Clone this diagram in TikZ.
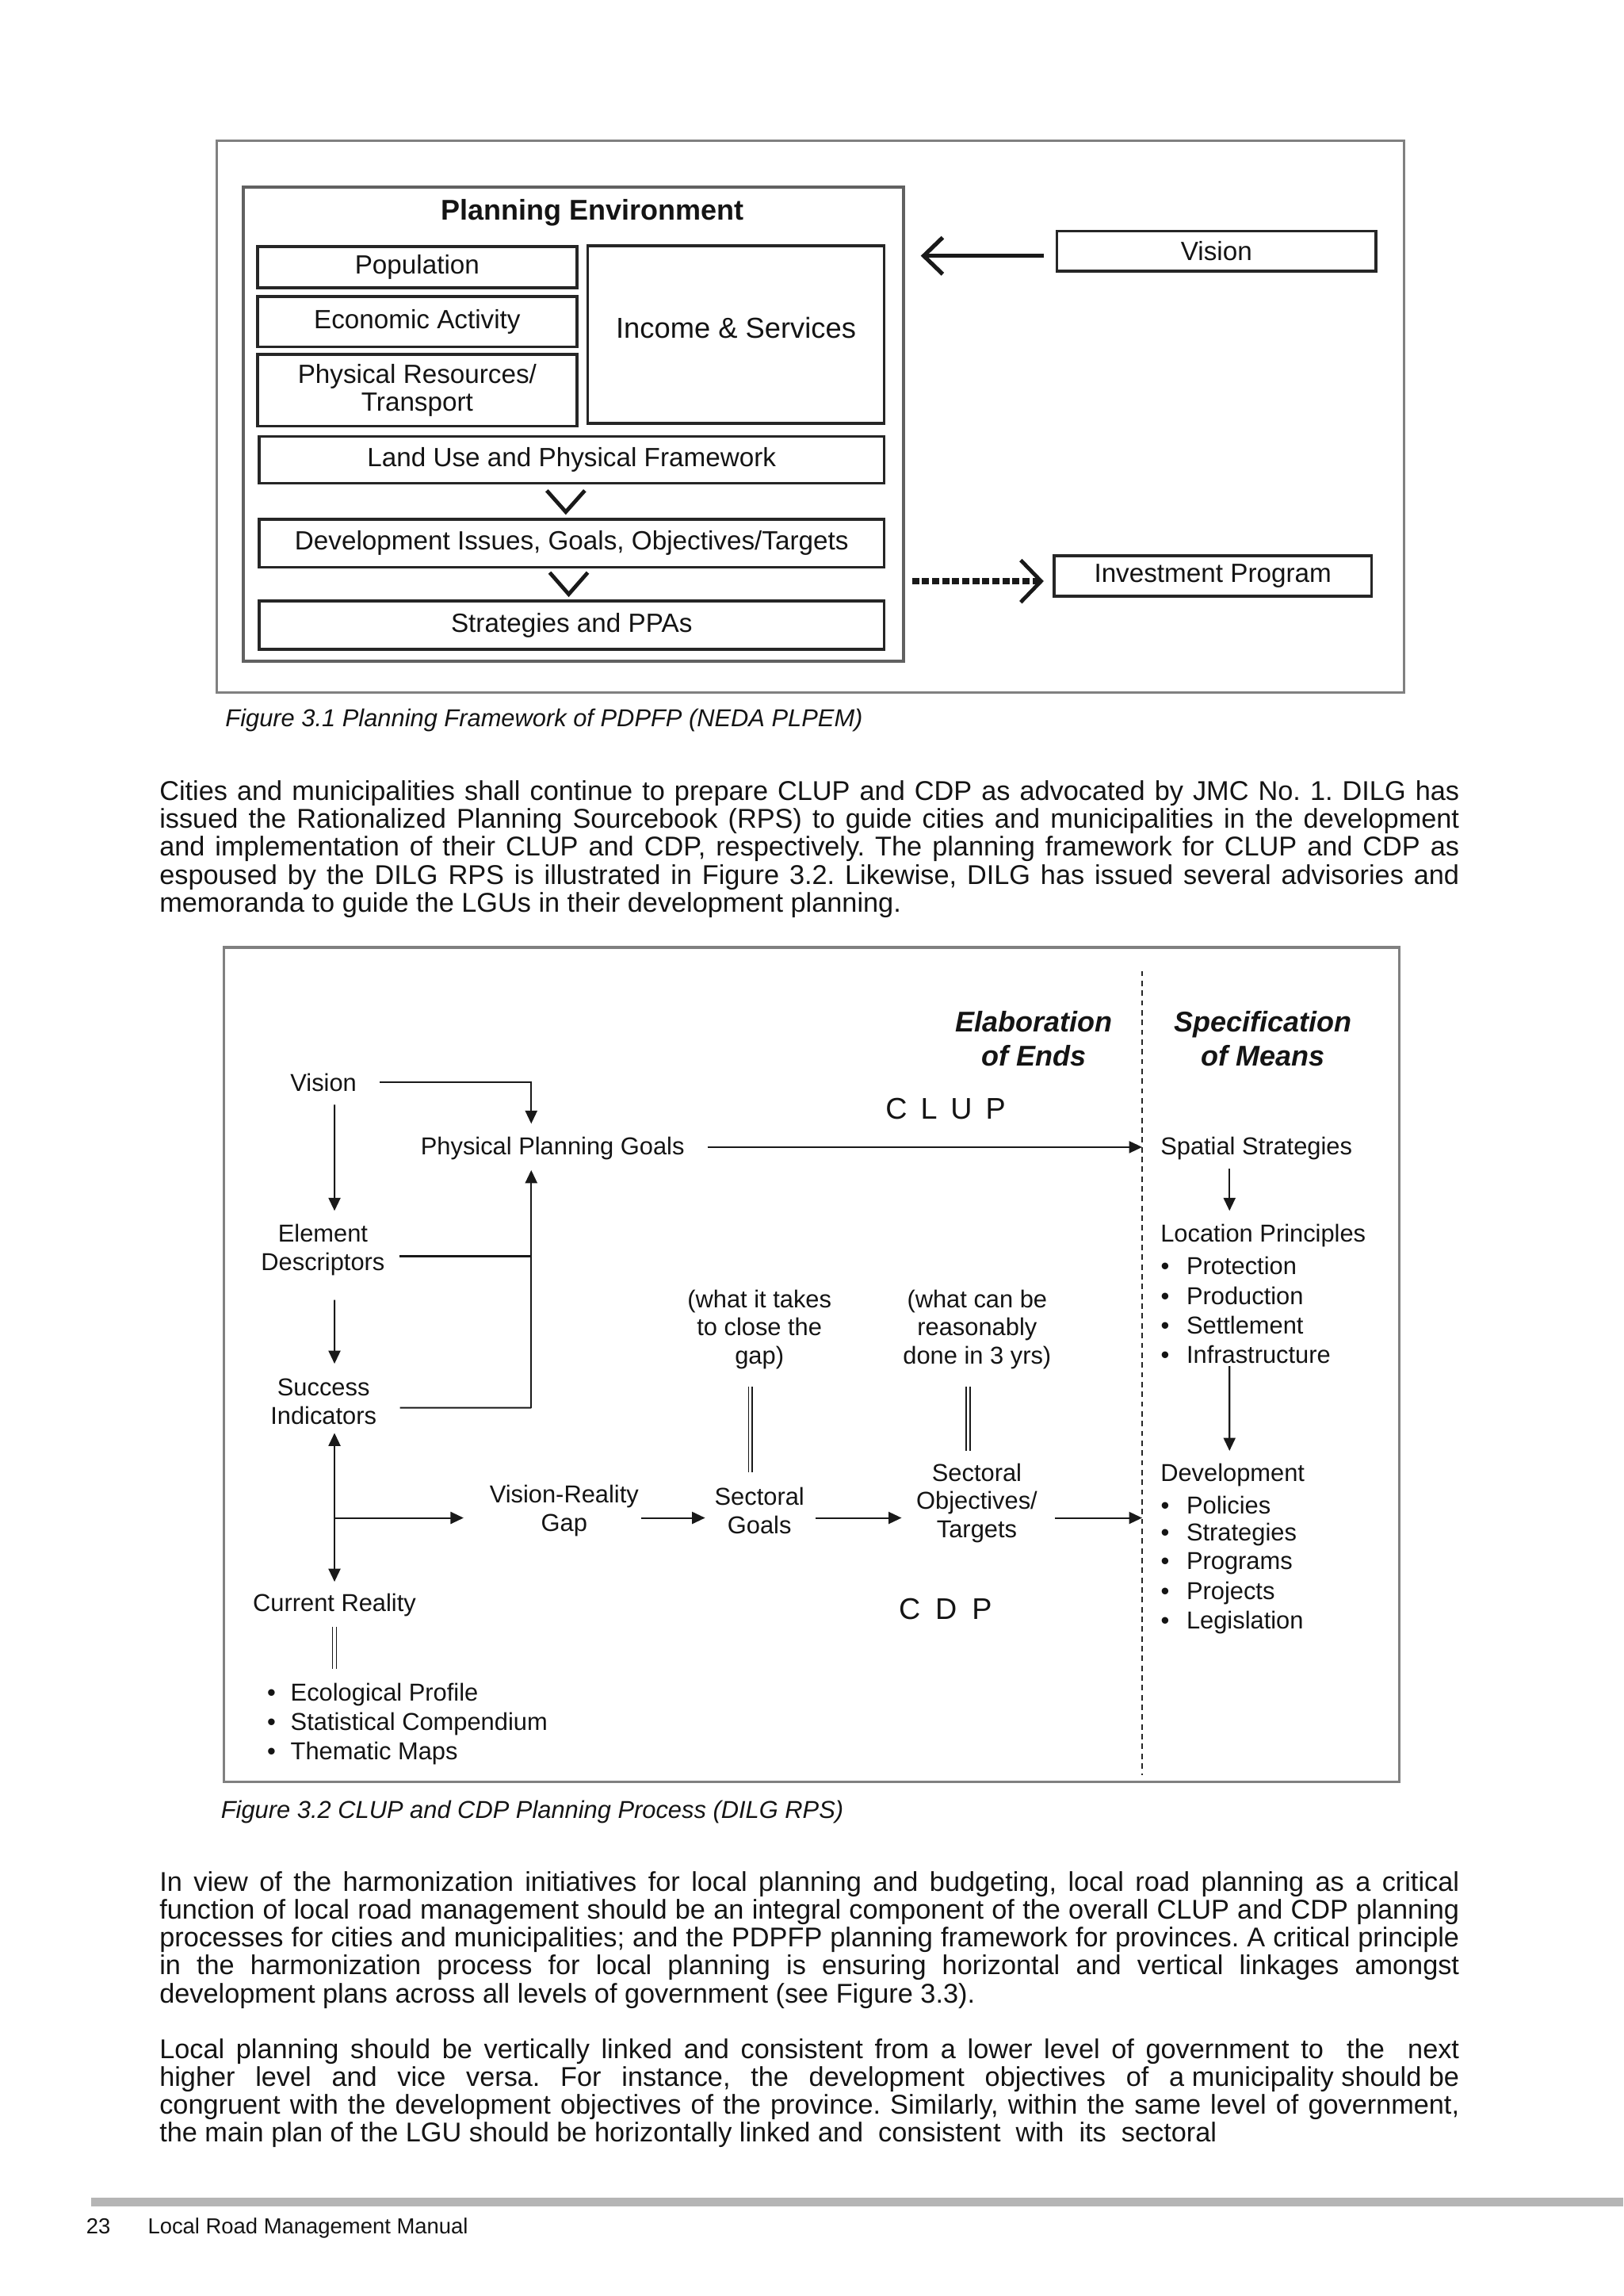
\documentclass[tikz,border=0pt]{standalone}
\usepackage{fontspec}
\setmainfont{Liberation Sans}
\usetikzlibrary{arrows.meta,calc,fit}
\newlength\pw \setlength\pw{478.4pt}
\newcommand\jl[1]{\makebox[\pw][s]{#1}}
\newcommand\fs{\kern0.278em}
\begin{document}
\begin{tikzpicture}[x=0.018936cm, y=-0.018936cm,
  every node/.style={inner sep=0pt, outer sep=0pt, text=black!92},
  >={Triangle[length=4.8pt,width=4.4pt]},
  sz/.style 2 args={minimum width=#1*0.5388pt, minimum height=#2*0.5388pt},
  figframe/.style={draw=black!50, line width=1pt, inner sep=0pt},
  envbox/.style={draw=black!62, line width=1.2pt, inner sep=0pt},
  bx/.style={draw=black!85, line width=1.1pt, inner sep=0pt, align=center, font=\fontsize{9.7}{10.3}\selectfont},
  chev/.style={line width=1.4pt, line join=miter, draw=black!90},
  lbl/.style={font=\fontsize{9}{10.4}\selectfont, align=center},
  lbll/.style={font=\fontsize{9}{10.4}\selectfont, anchor=west},
  hdr/.style={font=\fontsize{10.5}{12.4}\selectfont\bfseries\itshape, align=center},
  bigtxt/.style={font=\fontsize{11}{12}\selectfont},
  conn/.style={line width=0.6pt, draw=black!90},
  dbl/.style={draw=black!90, double=white, double distance=0.9pt, line width=0.55pt},
  bodytext/.style={font=\fontsize{10}{10.24}\selectfont\frenchspacing, align=left, anchor=base west},
  capt/.style={font=\fontsize{9}{10.5}\selectfont\itshape, anchor=base west}]
\useasboundingbox (0,0) rectangle (1109,1568);
\fill[white] (0,0) rectangle (1109,1568);

% ---------------- Figure 3.1 ----------------
\node[figframe, fit={(148,96) (959,473)}] (fig1) {};
\node[envbox, fit={(166,128) (617,451.6)}] (env) {};
\node[font=\fontsize{10.5}{12}\selectfont\bfseries] (envtitle) at (404.5,145) {Planning Environment};
\node[bx, sz={218}{28.1}] (pop) at (285,182.55) {Population};
\node[bx, sz={218}{34.5}] (eco) at (285,219.65) {Economic Activity};
\node[bx, sz={218}{49}] (phys) at (285,266.5) {Physical Resources/\\Transport};
\node[bx, sz={202.5}{121.3}] (inc) at (502.75,228.35) {};
\node[font=\fontsize{10.6}{12}\selectfont] (inctxt) at ($(inc.center)+(0,-4.5)$) {Income \& Services};
\node[bx, sz={427}{32}] (lu) at (390.5,314) {Land Use and Physical Framework};
\node[bx, sz={427}{32.7}] (dev) at (390.5,371.05) {Development Issues, Goals, Objectives/Targets};
\node[bx, sz={427}{33}] (str) at (390.5,427) {Strategies and PPAs};
\node[bx, sz={218}{27.2}] (vis1) at (831,171.4) {Vision};
\node[bx, sz={217}{27.6}] (inv) at (828.5,393.2) {Investment Program};

\draw[chev] ($(lu.south)+(-17,5)$) -- ($(lu.south)+(-4,19.6)$) -- ($(lu.south)+(9,5)$);
\draw[chev] ($(dev.south)+(-15,3.6)$) -- ($(dev.south)+(-2,18.4)$) -- ($(dev.south)+(11,3.6)$);

\coordinate (va) at ($(vis1.west)+(-9,3.3)$);
\coordinate (vb) at ($(va -| env.east)+(12,0)$);
\draw[line width=1.5pt, draw=black!90, -{Straight Barb[length=7pt,width=13.5pt]}] (va) -- (vb);

\coordinate (ia) at ($(env.east |- inv.west)+(6,3.7)$);
\coordinate (ib) at ($(inv.west)+(-7,3.7)$);
\draw[line width=2.2pt, draw=black!90, dash pattern=on 2.6pt off 1.1pt,
  -{Straight Barb[length=7.5pt,width=15.5pt,line width=1.4pt]}] (ia) -- (ib);

\node[capt] (cap1) at (154,496) {Figure 3.1 Planning Framework of PDPFP (NEDA PLPEM)};

% ---------------- Paragraph 1 ----------------
\node[bodytext] (p1) at (109,622.7) {%
\jl{Cities and municipalities shall continue to prepare CLUP and CDP as advocated by JMC No. 1. DILG has}\\
\jl{issued the Rationalized Planning Sourcebook (RPS) to guide cities and municipalities in the development}\\
\jl{and implementation of their CLUP and CDP, respectively. The planning framework for CLUP and CDP as}\\
\jl{espoused by the DILG RPS is illustrated in Figure 3.2. Likewise, DILG has issued several advisories and}\\
memoranda to guide the LGUs in their development planning.};

% ---------------- Figure 3.2 ----------------
\node[figframe, fit={(153,647) (956,1217)}] (fig2) {};
\coordinate (dtop) at (780.2,663);
\coordinate (dbot) at (780.2,1212.5);
\draw[line width=0.55pt, draw=black!85, dash pattern=on 2pt off 1.6pt] (dtop) -- (dbot);

\node[hdr] (elab) at (706.4,709.3) {Elaboration\\of Ends};
\node[hdr] (spec) at (863,709.3) {Specification\\of Means};
\node[bigtxt] (clup) at (646,757.4) {C\hspace{.45em}L\hspace{.45em}U\hspace{.45em}P};
\node[bigtxt] (cdp) at (645.8,1098.8) {C\hspace{.5em}D\hspace{.5em}P};

\node[lbl] (vis2) at (221,739.5) {Vision};
\node[lbl] (ppg) at (377.5,784.2) {Physical Planning Goals};
\node[lbl] (ed) at (220.6,853.5) {Element\\Descriptors};
\node[lbl] (si) at (221,957.3) {Success\\Indicators};
\node[lbl] (cr) at (228.5,1096) {Current Reality};
\node[lbl] (vrg) at (385.4,1031.8) {Vision-Reality\\Gap};
\node[lbl] (sg) at (518.8,1031.8) {Sectoral\\Goals};
\node[lbl] (sot) at (667.3,1026.5) {Sectoral\\Objectives/\\Targets};
\node[lbl] (n1) at (518.8,907.8) {(what it takes\\to close the\\gap)};
\node[lbl] (n2) at (667.5,907.8) {(what can be\\reasonably\\done in 3 yrs)};

\node[lbll] (b1) at (182.5,1157.2) {\textbullet\hspace{5.5pt}Ecological Profile};
\node[lbll] (b2) at (182.5,1177.4) {\textbullet\hspace{5.5pt}Statistical Compendium};
\node[lbll] (b3) at (182.5,1197.5) {\textbullet\hspace{5.5pt}Thematic Maps};

\node[lbll] (ss) at (792.8,784.2) {Spatial Strategies};
\node[lbll] (lp) at (792.8,843.8) {Location Principles};
\node[lbll] (lp1) at (793,864.2) {\textbullet\hspace{6.3pt}Protection};
\node[lbll] (lp2) at (793,884.7) {\textbullet\hspace{6.3pt}Production};
\node[lbll] (lp3) at (793,904.8) {\textbullet\hspace{6.3pt}Settlement};
\node[lbll] (lp4) at (793,925) {\textbullet\hspace{6.3pt}Infrastructure};
\node[lbll] (dv) at (792.8,1007.6) {Development};
\node[lbll] (dv1) at (793,1027.7) {\textbullet\hspace{6.3pt}Policies};
\node[lbll] (dv2) at (793,1047.8) {\textbullet\hspace{6.3pt}Strategies};
\node[lbll] (dv3) at (793,1068) {\textbullet\hspace{6.3pt}Programs};
\node[lbll] (dv4) at (793,1088) {\textbullet\hspace{6.3pt}Projects};
\node[lbll] (dv5) at (793,1108) {\textbullet\hspace{6.3pt}Legislation};

% connectors
\coordinate (ppgin) at ($(ppg.center)+(-14.6,-16.8)$);
\coordinate (ppgbot) at ($(ppg.center)+(-14.6,14.9)$);
\coordinate (jn) at ($(ppgbot)+(0,162.3)$);
\draw[conn,->] ($(vis2.east)+(16,-0.7)$) -| (ppgin);
\draw[conn,->] (jn) -- (ppgbot);
\coordinate (edo) at ($(ed.east)+(10,4.4)$);
\draw[conn] (edo) -- (edo -| jn);
\draw[conn] ($(si.east)+(16,4.1)$) -- (jn);
\coordinate (ppgo) at ($(ppg.east)+(15.8,-0.8)$);
\draw[conn,->] (ppgo) -- (ppgo -| dtop);

\draw[conn,->] ($(vis2.center)+(7.5,14.9)$) -- ($(ed.center)+(7.9,-26.6)$);
\draw[conn,->] ($(ed.center)+(7.9,34.2)$) -- ($(si.center)+(7.5,-26)$);
\draw[conn,<->] ($(si.center)+(7.5,21.3)$) -- ($(cr.center)+(0,-15.8)$);
\coordinate (br) at ($(si.center)+(7.5,79.3)$);
\draw[conn,->] (br) -- ($(vrg.west |- br)+(-17.8,0)$);
\draw[conn,->] ($(vrg.east)+(1.5,4.8)$) -- ($(sg.west)+(-6.5,4.8)$);
\draw[conn,->] ($(sg.east)+(7.6,4.8)$) -- ($(sot.west)+(-10.1,10.1)$);
\coordinate (so) at ($(sot.east)+(12,10.1)$);
\draw[conn,->] (so) -- (so -| dtop);

\draw[dbl] ($(n1.center)+(-6.1,39.3)$) -- ($(sg.center)+(-6.1,-26.1)$);
\draw[dbl] ($(n2.center)+(-6,39.3)$) -- ($(sot.center)+(-5.8,-35.7)$);
\draw[dbl] ($(cr.center)+(0,15.2)$) -- ($(b1.west)+(46,-17.5)$);

\draw[conn,->] ($(ss.west)+(47.1,14.1)$) -- ($(lp.west)+(47.1,-16.9)$);
\draw[conn,->] ($(lp4.west)+(46.9,8)$) -- ($(dv.west)+(47.1,-16.8)$);

\node[capt] (cap2) at (151,1242) {Figure 3.2 CLUP and CDP Planning Process (DILG RPS)};

% ---------------- Paragraphs 2 and 3 ----------------
\node[bodytext] (p2) at (109,1367.7) {%
\jl{In view of the harmonization initiatives for local planning and budgeting, local road planning as a critical}\\
\jl{function of local road management should be an integral component of the overall CLUP and CDP planning}\\
\jl{processes for cities and municipalities; and the PDPFP planning framework for provinces. A critical principle}\\
\jl{in the harmonization process for local planning is ensuring horizontal and vertical linkages amongst}\\
development plans across all levels of government (see Figure 3.3).};

\node[bodytext] (p3) at (109,1462.7) {%
\jl{Local planning should be vertically linked and consistent from a lower level of government to\ \ the\ \ next}\\
\jl{higher level and vice versa. For instance, the development objectives of a\fs municipality\fs should\fs be}\\
\jl{congruent with the development objectives of the province. Similarly, within the same level of government,}\\
the main plan of the LGU should be horizontally linked and\ \ consistent\ \ with\ \ its\ \ sectoral};

% ---------------- Footer ----------------
\node[fill=black!29, fit={(62,1501) (1109,1506.6)}] (bar) {};
\node[font=\fontsize{8}{9}\selectfont, anchor=base west] (pgno) at (59,1525.3) {23};
\node[font=\fontsize{8}{9}\selectfont, anchor=base west] (foot) at (101,1525.3) {Local Road Management Manual};
\end{tikzpicture}
\end{document}
